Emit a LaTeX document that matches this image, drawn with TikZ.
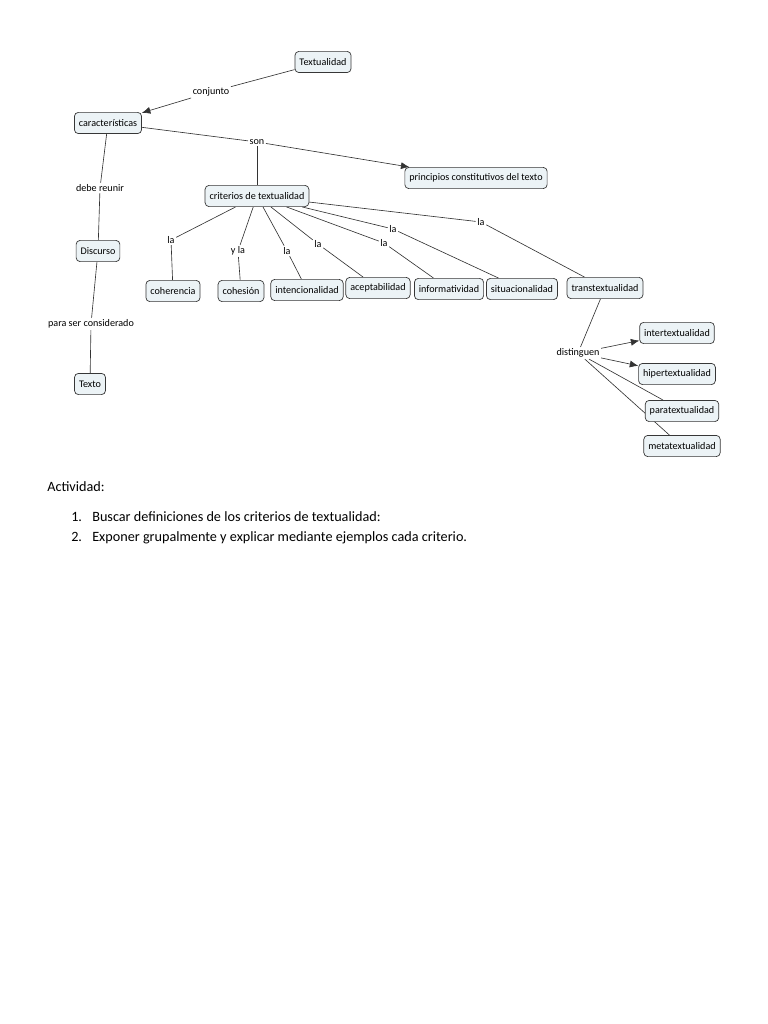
\documentclass[tikz,border=0pt]{standalone}
\usepackage{fontspec}
\setmainfont{Carlito}
\usetikzlibrary{arrows.meta,backgrounds}
\definecolor{cajafondo}{RGB}{236,243,246}
\definecolor{cajaborde}{RGB}{55,55,55}

\begin{document}
\begin{tikzpicture}[x=0.025cm, y=-0.025cm,
		concepto/.style={draw=cajaborde, fill=cajafondo, rounded corners=2.8pt, line width=0.5pt, minimum height=0.53cm, inner xsep=3.2pt, font=\fontsize{7.2}{8}\selectfont},
		enlace/.style={inner sep=1pt, font=\fontsize{7.2}{8}\selectfont},
		linea/.style={draw=black!80, line width=0.45pt},
		flecha/.style={linea, -{Latex[length=6pt,width=5pt]}},
		texto/.style={anchor=base west, inner sep=0pt, font=\fontsize{10.1}{12}\selectfont}
	]
	\useasboundingbox (0,0) rectangle (768,1024);

	% conceptos
	\node[concepto] (textualidad) at (323,62) {Textualidad};
	\node[concepto] (caract) at (108,123) {características};
	\node[concepto] (principios) at (476,178) {principios constitutivos del texto};
	\node[concepto] (criterios) at (257,196) {criterios de textualidad};
	\node[concepto] (discurso) at (98,251) {Discurso};
	\node[concepto] (texto) at (90,384) {Texto};

	\node[concepto] (coherencia) at (173,291) {coherencia};
	\node[concepto] (cohesion) at (241,291) {cohesión};
	\node[concepto] (intencion) at (307,290) {intencionalidad};
	\node[concepto] (acept) at (378,288) {aceptabilidad};
	\node[concepto] (informa) at (449,289) {informatividad};
	\node[concepto] (situa) at (522,289) {situacionalidad};
	\node[concepto] (trans) at (605,288) {transtextualidad};

	\node[concepto] (inter) at (677,333) {intertextualidad};
	\node[concepto] (hiper) at (677,374) {hipertextualidad};
	\node[concepto] (para) at (682,411) {paratextualidad};
	\node[concepto] (meta) at (682,446) {metatextualidad};

	% enlaces
	\node[enlace] (conjunto) at (211,92) {conjunto};
	\node[enlace] (son) at (257,142) {son};
	\node[enlace] (debe) at (100,188) {debe reunir};
	\node[enlace] (paraser) at (91,324) {para ser considerado};
	\node[enlace] (la1) at (171,240) {la};
	\node[enlace] (yla) at (238,251) {y la};
	\node[enlace] (la2) at (287,251) {la};
	\node[enlace] (la3) at (318,244) {la};
	\node[enlace] (la4) at (384,243) {la};
	\node[enlace] (la5) at (393,229) {la};
	\node[enlace] (la6) at (481,222) {la};
	\node[enlace] (dist) at (578,353) {distinguen};

	\begin{scope}[on background layer]
		\draw[linea] (textualidad) -- (conjunto);
		\draw[flecha] (conjunto) -- (caract);
		\draw[linea] (caract) -- (son);
		\draw[linea] (son) -- (criterios);
		\draw[flecha] (son) -- (principios);
		\draw[linea] (caract) -- (debe) -- (discurso);
		\draw[linea] (discurso) -- (paraser) -- (texto);

		\draw[linea] (criterios) -- (la1) -- (coherencia);
		\draw[linea] (criterios) -- (yla) -- (cohesion);
		\draw[linea] (criterios) -- (la2) -- (intencion);
		\draw[linea] (criterios) -- (la3) -- (acept);
		\draw[linea] (criterios) -- (la4) -- (informa);
		\draw[linea] (criterios) -- (la5) -- (situa);
		\draw[linea] (criterios) -- (la6) -- (trans);

		\draw[linea] (trans) -- (dist);
		\draw[flecha] (dist) -- (inter);
		\draw[flecha] (dist) -- (hiper);
		\draw[linea] (dist) -- (para.150);
		\draw[linea] (dist) -- (meta.139);
	\end{scope}

	% actividad
	\node[texto] (actividad) at (47,491) {Actividad:};
	\node[texto] (num1) at (71,521) {1.};
	\node[texto] (item1) at (92,521) {Buscar definiciones de los criterios de textualidad:};
	\node[texto] (num2) at (71,541) {2.};
	\node[texto] (item2) at (92,541) {Exponer grupalmente y explicar mediante ejemplos cada criterio.};
\end{tikzpicture}
\end{document}
